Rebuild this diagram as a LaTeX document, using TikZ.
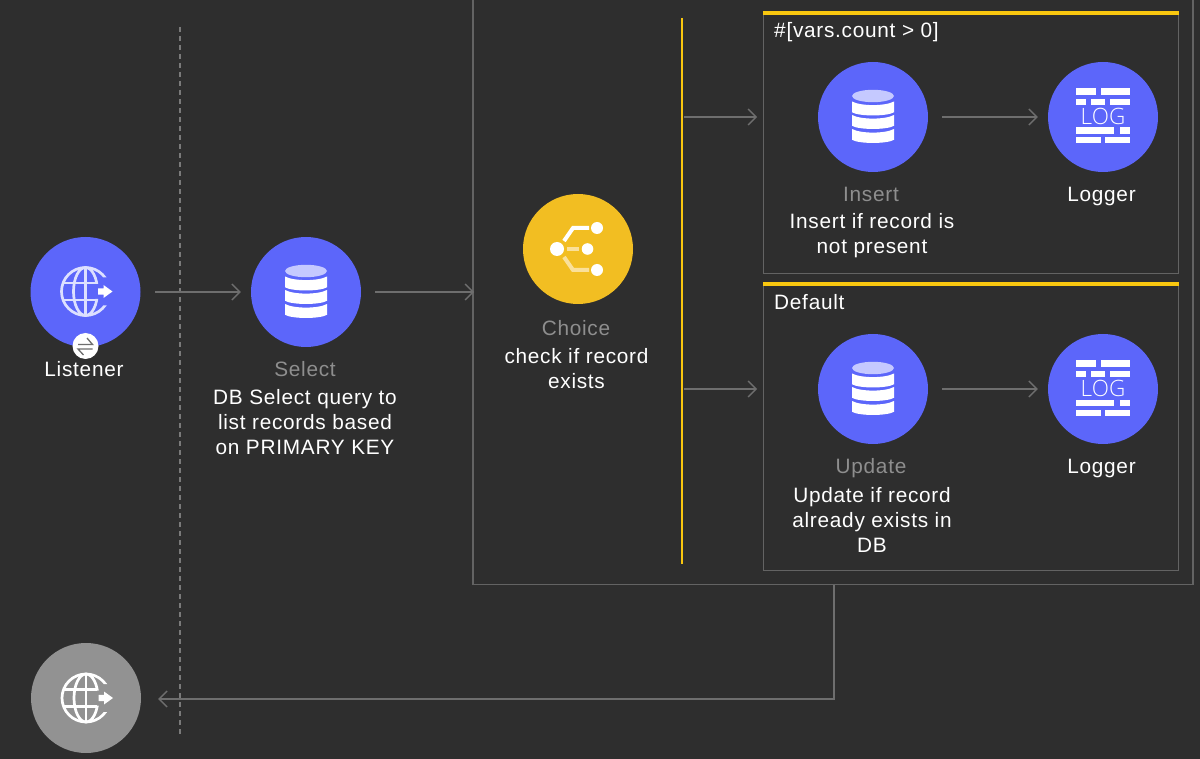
\documentclass[tikz,border=0pt]{standalone}
\usepackage{fontspec}
\setmainfont[LetterSpace=3.5]{Liberation Sans}
\newfontfamily\logfont{Open Sans Light}
\usetikzlibrary{arrows.meta}
\definecolor{bgdark}{HTML}{2E2E2E}
\definecolor{framegray}{HTML}{636363}
\definecolor{flowgray}{HTML}{6E6E6E}
\definecolor{dashgray}{HTML}{7A7A7A}
\definecolor{iconblue}{HTML}{5C66FA}
\definecolor{topblue}{HTML}{C5C9FF}
\definecolor{globelight}{HTML}{DDE0FF}
\definecolor{gold}{HTML}{F2BE22}
\definecolor{yellowline}{HTML}{F9C70F}
\definecolor{softgold}{HTML}{FAE09A}
\definecolor{mutedgray}{HTML}{929292}
\definecolor{labelgray}{HTML}{8E8E8E}
\tikzset{
  x=1pt,y=-1pt,
  blueball/.style={circle,fill=iconblue,draw=none,minimum size=110pt,inner sep=0pt},
  goldball/.style={blueball,fill=gold},
  greyball/.style={blueball,fill=mutedgray},
  badge/.style={circle,fill=white,draw=none,minimum size=26pt,inner sep=0pt},
  flow/.style={draw=flowgray,line width=1.4pt,-{Straight Barb[length=8pt,width=16pt,line width=1.4pt]}},
  framebox/.style={rectangle,draw=framegray,line width=1.3pt,inner sep=0pt},
  caption/.style={text=white,font=\fontsize{20.8}{25}\selectfont,align=center,inner sep=0pt},
  greycap/.style={caption,text=labelgray},
  globe/.pic={
    \begin{scope}[draw=#1,line width=2.7pt]
      \begin{scope}
        \clip (-30,-30) -- (30,-30) -- (30,-14) -- (8,-14) -- (8,14) -- (30,14) -- (30,30) -- (-30,30) -- cycle;
        \draw (0,0) circle[radius=24];
      \end{scope}
      \begin{scope}
        \clip (-30,-30) -- (30,-30) -- (30,-7.5) -- (6,-7.5) -- (6,7.5) -- (30,7.5) -- (30,30) -- (-30,30) -- cycle;
        \draw (0,0) ellipse[x radius=12,y radius=24];
      \end{scope}
      \draw (0,-24) -- (0,24);
      \draw (-22.5,-8.5) -- (11,-8.5);
      \draw (-22.5,8.5) -- (11,8.5);
    \end{scope}
    \fill[white] (12.5,-3.2) -- (18,-3.2) -- (18,-6.5) -- (27,0) -- (18,6.5) -- (18,3.2) -- (12.5,3.2) -- cycle;
  },
  dbicon/.pic={
    \fill[topblue] (0,-20.5) ellipse[x radius=21,y radius=6.2];
    \foreach \d in {-15,-1.5,12.5}{
      \fill[white] (-21,\d) .. controls (-12,\d+4.8) and (12,\d+4.8) .. (21,\d)
        -- (21,\d+10.8) .. controls (14,\d+15) and (-14,\d+15) .. (-21,\d+10.8) -- cycle;
    }
  },
  logicon/.pic={
    \fill[white] (-27,-28) rectangle (-7,-21);
    \fill[white] (-2,-28) rectangle (27,-21);
    \fill[white] (-27,-17) rectangle (-17,-11);
    \fill[white] (-12,-17) rectangle (2,-11);
    \fill[white] (7,-17) rectangle (27,-11);
    \node[text=white,inner sep=0pt,font=\logfont\fontsize{22.5}{24}\selectfont] (-t) at (0,0) {LOG};
    \fill[white] (-27,11) rectangle (11,17.5);
    \fill[white] (17,11) rectangle (27,17.5);
    \fill[white] (-27,21) rectangle (-2,27);
    \fill[white] (2,21) rectangle (27,27);
  },
  choiceicon/.pic={
    \draw[softgold,line width=4pt] (-11,0) -- (1,0);
    \draw[softgold,line width=4pt] (-14,8) -- (-5,21) -- (11,21);
    \draw[white,line width=4pt] (-14,-8) -- (-5,-21) -- (11,-21);
    \fill[white] (-21,0) circle[radius=7];
    \fill[white] (9.5,0) circle[radius=5.8];
    \fill[white] (19,-21) circle[radius=6];
    \fill[white] (19,21) circle[radius=6];
  }
}
\begin{document}
\begin{tikzpicture}
\useasboundingbox (0,0) rectangle (1200,759);
\fill[bgdark] (0,0) rectangle (1200,759);

% dashed separator
\coordinate (dashtop) at (180,27);
\coordinate (dashbottom) at (180,735);
\draw[dashgray,line width=1.2pt,dash pattern=on 5pt off 4pt] (dashtop) -- (dashbottom);

% outer scope frame (open at the top edge)
\coordinate (outerTL) at (473,-3);
\coordinate (outerBL) at (473,584.5);
\coordinate (outerBR) at (1193,584.5);
\coordinate (outerTR) at (1193,-3);
\draw[framegray,line width=1.4pt] (outerTL) -- (outerBL) -- (outerBR) -- (outerTR);

% router bar
\coordinate (bartop) at (682,18);
\coordinate (barbottom) at (682,564);
\draw[yellowline,line width=1.8pt] (bartop) -- (barbottom);

% route frames
\node[framebox,minimum width=415pt,minimum height=260pt] (routeA) at (971,143.5) {};
\node[framebox,minimum width=415pt,minimum height=286pt] (routeB) at (971,427.5) {};
\draw[yellowline,line width=3.4pt] (routeA.north west) -- (routeA.north east);
\draw[yellowline,line width=3.4pt] (routeB.north west) -- (routeB.north east);

% nodes
\node[blueball] (listener) at (85.5,292) {};
\pic at (85.5,291.5) {globe=globelight};
\node[badge] (swapbadge) at (85.5,346) {};
\draw[flowgray,line width=1.3pt] (78,344.5) -- (92.5,344.5) -- (87,338);
\draw[flowgray,line width=1.3pt] (92.5,349) -- (78,349) -- (83.5,355);
\node[caption] (listenerlabel) at (84,369) {Listener};

\node[blueball] (select) at (306,292) {};
\pic at (306,291.5) {dbicon};
\node[greycap] (selecttitle) at (305,369.5) {Select};
\node[caption] (selectdesc) at (305,422) {DB Select query to\\list records based\\on PRIMARY KEY};

\node[goldball] (choice) at (578,249) {};
\pic at (choice.center) {choiceicon};
\node[greycap] (choicetitle) at (576,328) {Choice};
\node[caption] (choicedesc) at (576.5,368.5) {check if record\\exists};

\node[blueball] (insert) at (873,117) {};
\pic at (873,116.5) {dbicon};
\node[greycap] (inserttitle) at (871,194.5) {Insert};
\node[caption] (insertdesc) at (872,235.5) {Insert if record is\\not present};

\node[blueball] (loggerA) at (1103,117) {};
\pic (loga) at (1103,116.5) {logicon};
\node[caption] (loggerAlabel) at (1101.5,197) {Logger};

\node[blueball] (update) at (873,389) {};
\pic at (873,388.5) {dbicon};
\node[greycap] (updatetitle) at (871,468) {Update};
\node[caption] (updatedesc) at (872,520) {Update if record\\already exists in\\DB};

\node[blueball] (loggerB) at (1103,389) {};
\pic (logb) at (1103,388.5) {logicon};
\node[caption] (loggerBlabel) at (1101.5,469) {Logger};

\node[greyball] (response) at (86,698) {};
\pic at (response.center) {globe=white};

% route conditions
\node[caption,anchor=west] (condA) at (774,32.5) {\#[vars.count > 0]};
\node[caption,anchor=west] (condB) at (774,302.5) {Default};

% connectors
\coordinate (framein) at (474,292);
\coordinate (routeAout) at (684,117);
\coordinate (routeBout) at (684,389);
\coordinate (routeAin) at (757,117);
\coordinate (routeBin) at (757,389);
\coordinate (returnstart) at (834,585);
\coordinate (returncorner) at (834,699);
\draw[flow,shorten <=14.5pt,shorten >=10pt] (listener) -- (select);
\draw[flow,shorten <=14pt] (select) -- (framein);
\draw[flow] (routeAout) -- (routeAin);
\draw[flow] (routeBout) -- (routeBin);
\draw[flow,shorten <=14pt,shorten >=10pt] (insert) -- (loggerA);
\draw[flow,shorten <=14pt,shorten >=10pt] (update) -- (loggerB);
\draw[flow,shorten >=17pt] (returnstart) -- (returncorner) -- (response.east |- returncorner);
\end{tikzpicture}
\end{document}
